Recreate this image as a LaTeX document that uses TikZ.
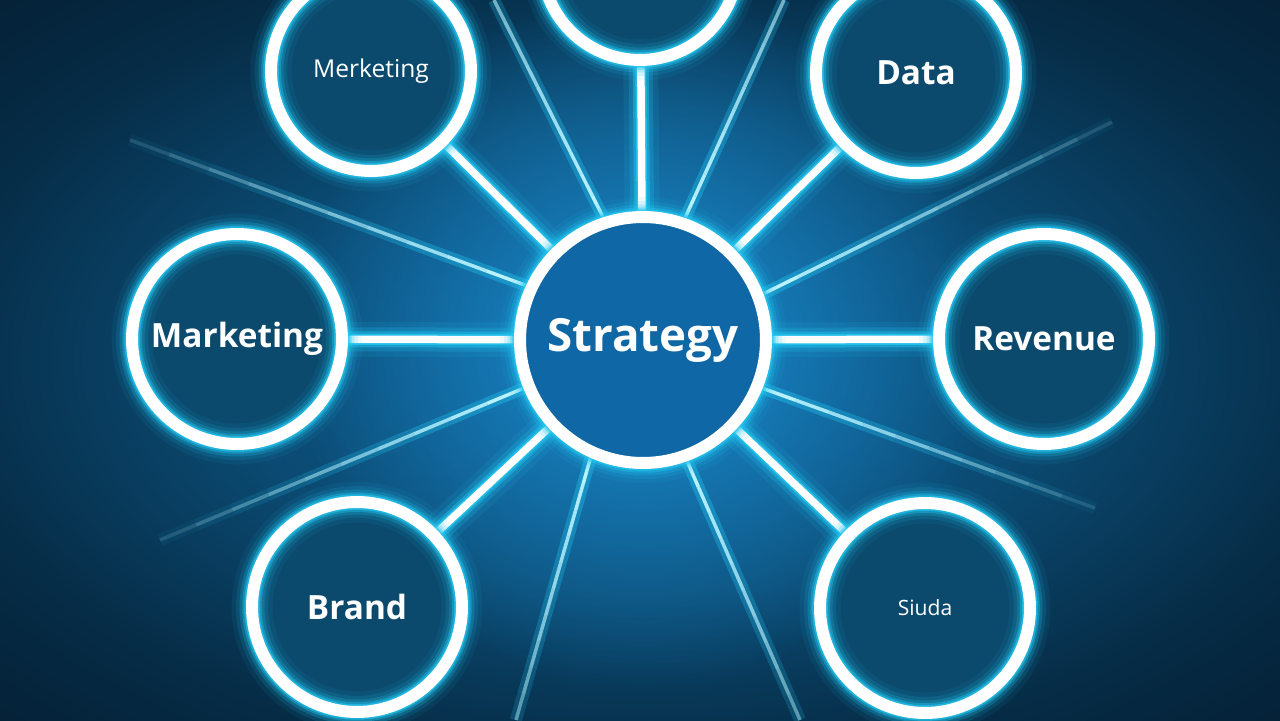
\documentclass[tikz,border=0pt]{standalone}
\usepackage{fontspec}
\setmainfont{Open Sans}
\usetikzlibrary{positioning,calc,backgrounds,fadings}

\definecolor{bgdark}{HTML}{03182A}
\definecolor{bgdeep}{HTML}{062C46}
\definecolor{bgmid}{HTML}{0B4A72}
\definecolor{bgcore}{HTML}{0F6299}
\definecolor{bgglow}{HTML}{1C8FD2}
\definecolor{glowcyan}{HTML}{22C6F0}
\definecolor{beamcyan}{HTML}{B8F2FF}
\definecolor{hubfill}{HTML}{1067A5}
\definecolor{leaffill}{HTML}{0B4A6D}

\pgfdeclareradialshading{backdrop}{\pgfpoint{0bp}{0bp}}{%
  color(0bp)=(bgcore); color(16bp)=(bgmid); color(28bp)=(bgdeep); color(42bp)=(bgdark); color(50bp)=(bgdark)}
\tikzfading[name=glowfade, inner color=transparent!0, outer color=transparent!100]

\begin{document}
\begin{tikzpicture}[
    x=0.02cm, y=-0.02cm,
    leaf/.style={circle, inner sep=0pt, minimum size=4.2cm, text=white,
        font=\bfseries\fontsize{19}{22}\selectfont,
        preaction={fill=leaffill},
        preaction={draw=glowcyan, line width=0.82cm, opacity=0.07},
        preaction={draw=glowcyan, line width=0.64cm, opacity=0.12},
        preaction={draw=glowcyan, line width=0.50cm, opacity=0.22},
        preaction={draw=glowcyan, line width=0.39cm, opacity=0.38},
        preaction={draw=glowcyan, line width=0.31cm, opacity=0.65},
        draw=white, line width=0.24cm},
    hub/.style={leaf, minimum size=4.92cm, font=\bfseries\fontsize{26}{30}\selectfont,
        preaction={fill=hubfill}},
    link/.style={line width=0.15cm, draw=white,
        preaction={draw=glowcyan, line width=0.7cm, opacity=0.10},
        preaction={draw=glowcyan, line width=0.48cm, opacity=0.22},
        preaction={draw=glowcyan, line width=0.32cm, opacity=0.45},
        preaction={draw=glowcyan, line width=0.22cm, opacity=0.8}},
    beamhalo/.style={line width=0.24cm, draw=glowcyan},
    beamcore/.style={line width=0.07cm, draw=beamcyan}
]
    \useasboundingbox (0,0) rectangle (1280,720);

    % Hub
    \node[hub] (strat) at (643,340) {Strategy};

    % Satellites
    \node[leaf, minimum size=3.92cm] (top) at (640,-38) {};
    \node[leaf, minimum size=4.0cm, font={\fontsize{14}{16}\selectfont}] (merk) at (371,71) {Merketing};
    \node[leaf, minimum size=4.0cm] (data) at (916,73) {Data};
    \node[leaf] (mark) at (237,339) {Marketing};
    \node[leaf] (rev) at (1044,339) {Revenue};
    \node[leaf] (brand) at (357,607) {Brand};
    \node[leaf, font={\fontsize{12}{14}\selectfont}] (siuda) at (925,608) {Siuda};

    % Free ends of the beams
    \coordinate (b1) at (494,0);
    \coordinate (b2) at (784,0);
    \coordinate (b3) at (130,140);
    \coordinate (b4) at (1112,122);
    \coordinate (b5) at (160,540);
    \coordinate (b6) at (1095,508);
    \coordinate (b7) at (516,720);
    \coordinate (b8) at (800,720);

    \begin{scope}[on background layer]
        % Backdrop
        \shade[shading=backdrop] (0,0) rectangle (1280,720);
        \fill[bgglow, path fading=glowfade, opacity=0.9] (strat.center) circle (7cm);

        % Beams
        \foreach \a/\e/\f in {108.7/b1/0.45, 71.7/b2/0.45, 155.5/b3/0.95, 21.5/b4/0.95,
                              202.3/b5/0.95, 338/b6/0.95, 246.6/b7/0.6, 290/b8/0.6} {
            \foreach \k in {0,...,9} {
                \pgfmathsetmacro\op{1-\f*\k/10}
                \pgfmathsetmacro\oph{0.4*\op}
                \draw[beamhalo, draw opacity=\oph] ($(strat.\a)!\k/10!(\e)$) -- ($(strat.\a)!{(\k+1)/10}!(\e)$);
                \draw[beamcore, draw opacity=\op] ($(strat.\a)!\k/10!(\e)$) -- ($(strat.\a)!{(\k+1)/10}!(\e)$);
            }
        }

        % Links
        \foreach \n in {top, merk, data, mark, rev, brand, siuda}
            \draw[link] (strat) -- (\n);
    \end{scope}
\end{tikzpicture}
\end{document}
